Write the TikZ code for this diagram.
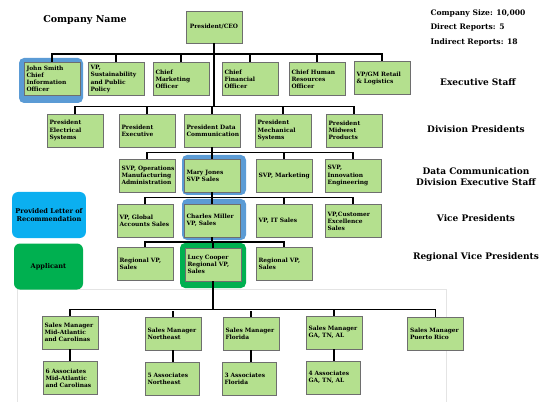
\documentclass[tikz,border=0pt]{standalone}
\usepackage{fontspec}
\setmainfont{DejaVu Serif}
\usepackage{tikz}
\hyphenpenalty=10000
\exhyphenpenalty=10000
\definecolor{boxgreen}{HTML}{B4E08E}
\definecolor{boxgray}{HTML}{6E6E6E}
\definecolor{hlblue}{HTML}{5B9BD5}
\definecolor{hlgreen}{HTML}{00B050}
\definecolor{letterblue}{HTML}{0BAFF0}
\definecolor{framegray}{HTML}{E4E4E4}

\begin{document}
\begin{tikzpicture}[x=1pt,y=-1pt,
	post/.style={draw=boxgray, line width=0.9pt, fill=boxgreen, minimum width=56pt,
		minimum height=33pt, text width=51pt, inner xsep=2.5pt, align=left,
		font=\fontsize{5.9}{7.1}\selectfont\bfseries},
	legend/.style={rounded corners=6pt, minimum width=69pt, minimum height=46pt,
		align=center, font=\fontsize{6.6}{7.6}\selectfont\bfseries},
	level/.style={align=center, font=\fontsize{9}{11}\selectfont\bfseries},
	stat/.style={anchor=west, font=\fontsize{7.6}{9}\selectfont\bfseries},
	link/.style={line width=1.2pt}]
		\useasboundingbox (0,0) rectangle (554,406);
		% frame round the sales managers
		\draw[framegray, line width=1pt] (17,402) |- (446,289) -- (446,402);
		% highlights
		\fill[hlblue, rounded corners=5pt] (19,58) rectangle (83,103);
		\fill[hlblue, rounded corners=5pt] (182,155) rectangle (246,195);
		\fill[hlblue, rounded corners=5pt] (182,199) rectangle (246,240);
		\fill[hlgreen, rounded corners=5pt] (180,243) rectangle (246,288);
		% titles
		\node[level, font=\fontsize{9.5}{11}\selectfont\bfseries] (cname) at (85,20) {Company Name};
		\node[stat] (csize) at (427,13) {Company Size: 10,000};
		\node[stat] (direct) at (427,27) {Direct Reports: 5};
		\node[stat] (indirect) at (427,42) {Indirect Reports: 18};
		\node[level] (lexec) at (478,82) {Executive Staff};
		\node[level] (ldiv) at (476,129) {Division Presidents};
		\node[level] (ldc) at (476,177) {Data Communication\\Division Executive Staff};
		\node[level] (lvp) at (476,218) {Vice Presidents};
		\node[level] (lrvp) at (476,257) {Regional Vice Presidents};
		% legend
		\node[legend, fill=letterblue] (letter) at (49,215) {Provided Letter of\\Recommendation};
		\node[legend, fill=hlgreen] (applicant) at (48.5,266.5) {Applicant};
		% president
		\node[post, align=center, minimum height=32pt] (ceo) at (214,27) {President/CEO};
		% executive staff
		\node[post] (js) at (52,79) {John Smith\\Chief\\Information\\Officer};
		\node[post] (vps) at (116,79) {VP,\\Sustainability\\and Public\\Policy};
		\node[post] (cmo) at (181,79) {Chief\\Marketing\\Officer};
		\node[post] (cfo) at (250,79) {Chief\\Financial\\Officer};
		\node[post] (chro) at (317,79) {Chief Human\\Resources\\Officer};
		\node[post] (vgm) at (382,78) {VP/GM Retail\\\& Logistics};
		% division presidents
		\node[post] (ele) at (75,130.5) {President\\Electrical\\Systems};
		\node[post] (exe) at (147,130.5) {President\\Executive};
		\node[post] (dc) at (212,130.5) {President Data\\Communication};
		\node[post] (mec) at (283,130.5) {President\\Mechanical\\Systems};
		\node[post] (mid) at (354,130.5) {President\\Midwest\\Products};
		% data communication staff
		\node[post] (ops) at (147,175.5) {SVP,~Operations\\Manufacturing\\Administration};
		\node[post] (mj) at (212,175.5) {Mary Jones\\SVP Sales};
		\node[post] (mkt) at (284,175.5) {SVP,~Marketing};
		\node[post] (inn) at (353,175.5) {SVP,\\Innovation\\Engineering};
		% vice presidents
		\node[post] (glo) at (145,220.5) {VP, Global\\Accounts Sales};
		\node[post] (cm) at (212,220.5) {Charles Miller\\VP, Sales};
		\node[post] (it) at (284,220.5) {VP, IT Sales};
		\node[post] (cus) at (353,221) {VP,Customer\\Excellence\\Sales};
		% regional vice presidents
		\node[post] (rl) at (145,264) {Regional VP,\\Sales};
		\node[post] (lc) at (213,264.5) {Lucy Cooper\\Regional VP,\\Sales};
		\node[post] (rr) at (284,264) {Regional VP,\\Sales};
		% sales managers
		\node[post] (mA) at (70,332.5) {Sales Manager\\Mid-Atlantic\\and Carolinas};
		\node[post] (ne) at (173,333.5) {Sales Manager\\Northeast};
		\node[post] (fl) at (251,333.5) {Sales Manager\\Florida};
		\node[post] (ga) at (334,332.5) {Sales Manager\\GA, TN, AL};
		\node[post] (pr) at (435.5,334) {Sales Manager\\Puerto Rico};
		% associates
		\node[post, minimum width=54pt, text width=49pt] (a6) at (70,378) {6 Associates\\Mid-Atlantic\\and Carolinas};
		\node[post, minimum width=54pt, text width=49pt] (a5) at (172,378.5) {5 Associates\\Northeast};
		\node[post, minimum width=54pt, text width=49pt] (a3) at (249,378.5) {3 Associates\\Florida};
		\node[post, minimum width=54pt, text width=49pt] (a4) at (333,377.5) {4 Associates\\GA, TN, AL};
		% reporting lines
		\draw[link] (js.north) -- ++(0,-8) -| (vgm.north);
		\foreach \n in {vps,cmo,cfo,chro}
			\draw[link] (\n.north) -- ++(0,-8);
		\draw[link] (ceo.south) -- ([yshift=7pt]ceo.south |- ele.north);
		\draw[link] (ele.north) -- ++(0,-7) -| (mid.north);
		\foreach \n in {exe,dc,mec}
			\draw[link] (\n.north) -- ++(0,-7);
		\draw[link] (dc.south) -- ([yshift=6pt]dc.south |- ops.north);
		\draw[link] (ops.north) -- ++(0,-6) -| (inn.north);
		\foreach \n in {mj,mkt}
			\draw[link] (\n.north) -- ++(0,-6);
		\draw[link] (mj.south) -- ([yshift=6pt]mj.south |- glo.north);
		\draw[link] (glo.north) -- ++(0,-6) -| (cus.north);
		\foreach \n in {cm,it}
			\draw[link] (\n.north) -- ++(0,-6);
		\draw[link] (cm.south) -- ([yshift=5pt]cm.south |- rl.north);
		\draw[link] (rl.north) -- ++(0,-5) -| (rr.north);
		\draw[link] (lc.north) -- ++(0,-5);
		\draw[link] (lc.south) -- ([yshift=6pt]lc.south |- mA.north);
		\draw[link] (mA.north) -- ++(0,-6) -| (pr.north);
		\foreach \n in {ne,fl,ga}
			\draw[link] (\n.north) -- ++(0,-6);
		\foreach \m/\a in {mA/a6,ne/a5,fl/a3,ga/a4}
			\draw[link] (\m.south) -- (\m.south |- \a.north);
	\end{tikzpicture}
\end{document}
